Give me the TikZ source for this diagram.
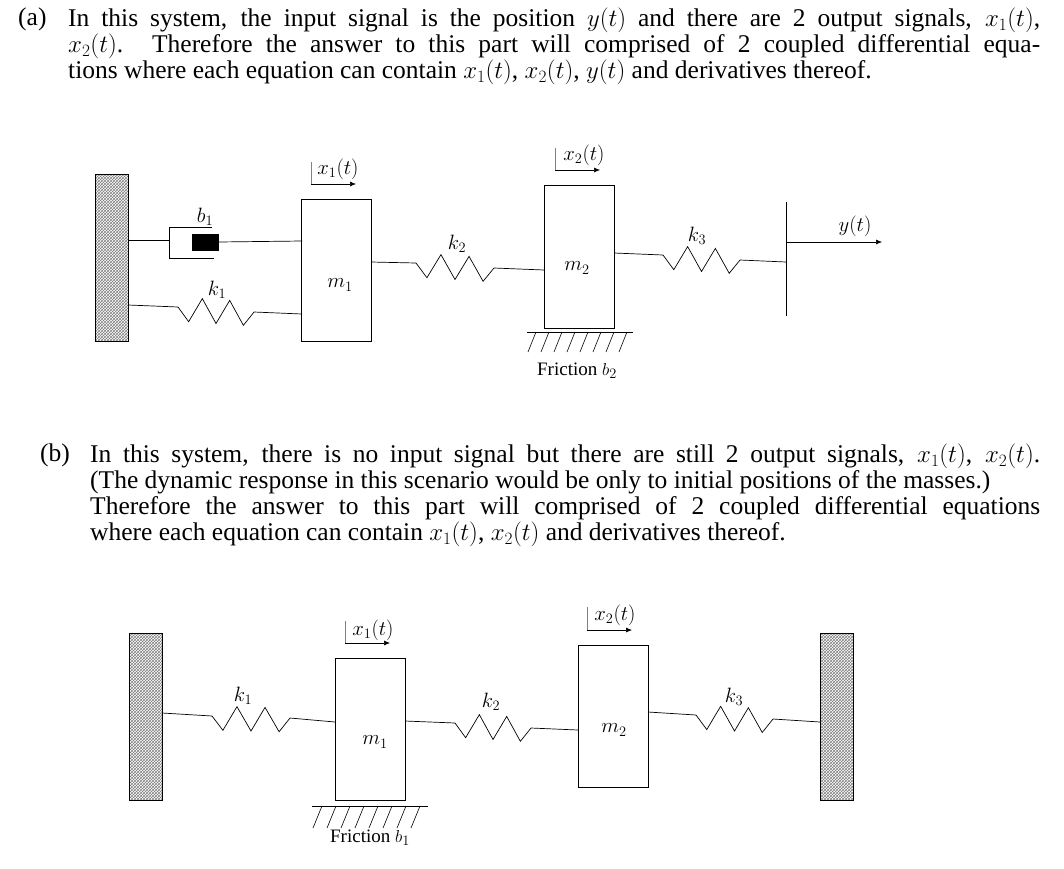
\documentclass[tikz,border=0pt]{standalone}
\usepackage{fontspec}
\setmainfont{Liberation Serif}
\usetikzlibrary{calc,patterns,arrows.meta}
\newcommand{\zzspring}[2]{%
  \draw[springline] (#1) -- ($(#1)!0.0!(#2)$)
   -- ($(#1)!0.14!(#2)+(0,14)$) -- ($(#1)!0.32!(#2)+(0,-10)$)
   -- ($(#1)!0.5!(#2)+(0,14)$) -- ($(#1)!0.68!(#2)+(0,-10)$)
   -- ($(#1)!0.86!(#2)+(0,14)$) -- (#2);}
\tikzset{
  mass/.style={draw, line width=0.8pt, minimum width=70pt, minimum height=142pt, inner sep=0pt},
  wall/.style={draw, line width=0.8pt, pattern=crosshatch, pattern color=gray, minimum width=33pt, minimum height=167pt, inner sep=0pt},
  springline/.style={line width=0.7pt},
  conn/.style={line width=0.7pt},
  lab/.style={font=\fontsize{20}{20}\selectfont, inner sep=0pt},
  para/.style={font=\fontsize{25.5}{26}\selectfont, align=justify, anchor=north west, inner sep=0pt},
  tag/.style={font=\fontsize{25.5}{26}\selectfont, anchor=north west, inner sep=0pt},
  disp/.style={line width=0.6pt, -{Latex[length=6pt,width=5pt]}},
  hatchl/.style={line width=0.6pt}
}
\begin{document}
\begin{tikzpicture}[x=1pt,y=-1pt]
\useasboundingbox (0,0) rectangle (1064,868);
% ---------- texts
\node[tag] (ta) at (18,8) {(a)};
\node[para, text width=972pt] (pa) at (68,8) {In this system, the input signal is the position $y(t)$ and there are 2 output signals, $x_1(t)$,\linebreak $x_2(t)$. Therefore the answer to this part will comprised of 2 coupled differential equa-\linebreak tions where each equation can contain $x_1(t)$, $x_2(t)$, $y(t)$ and derivatives thereof.};
\node[tag] (tb) at (40,444) {(b)};
\node[para, text width=950pt] (pb) at (90,444) {In this system, there is no input signal but there are still 2 output signals, $x_1(t)$, $x_2(t)$.\linebreak (The dynamic response in this scenario would be only to initial positions of the masses.)\newline Therefore the answer to this part will comprised of 2 coupled differential equations\linebreak where each equation can contain $x_1(t)$, $x_2(t)$ and derivatives thereof.};
% ---------- part (a)
\node[wall] (wA) at (111.5,257.5) {};
\node[mass] (mA1) at (336.5,270) {};
\node[mass, minimum height=143pt] (mA2) at (579,256.5) {};
\node[lab] (lm1) at (340,285) {$m_1$};
\node[lab] (lm2) at (577,268) {$m_2$};
% damper
\coordinate (dw) at (128,240);
\coordinate (dc) at (169,240);
\draw[conn] (dw) -- (dc);
\draw[conn] (212,227) -- (169,227) -- (169,258) -- (214,258);
\node[draw, fill=black, minimum width=26pt, minimum height=16pt, inner sep=0pt] (pist) at (205,242) {};
\coordinate (dm) at (302,241);
\draw[conn] (pist.east) -- (dm);
\node[lab] (lb1) at (205,217) {$b_1$};
% k1
\coordinate (k1a) at (128,305); \coordinate (k1b) at (178,307);
\coordinate (k1c) at (254,312); \coordinate (k1d) at (302,314);
\draw[conn] (k1a) -- (k1b); \zzspring{k1b}{k1c} \draw[conn] (k1c) -- (k1d);
\node[lab] (lk1) at (217,290) {$k_1$};
% k2
\coordinate (k2a) at (371,262); \coordinate (k2b) at (416,263);
\coordinate (k2c) at (494,268); \coordinate (k2d) at (544,270);
\draw[conn] (k2a) -- (k2b); \zzspring{k2b}{k2c} \draw[conn] (k2c) -- (k2d);
\node[lab] (lk2) at (457,244) {$k_2$};
% k3
\coordinate (k3a) at (614,253); \coordinate (k3b) at (663,255);
\coordinate (k3c) at (740,260); \coordinate (k3d) at (786,262);
\draw[conn] (k3a) -- (k3b); \zzspring{k3b}{k3c} \draw[conn] (k3c) -- (k3d);
\node[lab] (lk3) at (697,236) {$k_3$};
% plate and y(t)
\coordinate (pt) at (786,202); \coordinate (pb2) at (786,316);
\draw[conn] (pt) -- (pb2);
\coordinate (ys) at (786,242); \coordinate (ye) at (882,242);
\draw[disp] (ys) -- (ye);
\node[lab] (ly) at (855,226) {$y(t)$};
% x1, x2
\coordinate (x1a) at (311,162); \coordinate (x1b) at (311,184); \coordinate (x1c) at (356,184);
\draw[line width=0.6pt, gray] (x1a) -- (x1b);
\draw[disp] (x1b) -- (x1c);
\node[lab] (lx1) at (338,169) {$x_1(t)$};
\coordinate (x2a) at (555,148); \coordinate (x2b) at (555,170); \coordinate (x2c) at (600,170);
\draw[line width=0.6pt, gray] (x2a) -- (x2b);
\draw[disp] (x2b) -- (x2c);
\node[lab] (lx2) at (584,155) {$x_2(t)$};
% ground
\coordinate (g1) at (527,332); \coordinate (g2) at (633,332);
\draw[conn] (g1) -- (g2);
\foreach \i in {0,...,7} \draw[hatchl] (536+\i*13,332) -- (528+\i*13,352);
\node[lab, font=\fontsize{19}{19}\selectfont] (lf2) at (577,371) {Friction $b_2$};
% ---------- part (b)
\node[wall] (wB1) at (145.5,716.5) {};
\node[wall] (wB2) at (836.5,716.5) {};
\node[mass] (mB1) at (370,729) {};
\node[mass] (mB2) at (613,716) {};
\node[lab] (lbm1) at (375,742) {$m_1$};
\node[lab] (lbm2) at (614,730) {$m_2$};
\coordinate (b1a) at (162,713); \coordinate (b1b) at (212,716);
\coordinate (b1c) at (290,718); \coordinate (b1d) at (335,722);
\draw[conn] (b1a) -- (b1b); \zzspring{b1b}{b1c} \draw[conn] (b1c) -- (b1d);
\node[lab] (lbk1) at (243,696) {$k_1$};
\coordinate (b2a) at (405,721); \coordinate (b2b) at (455,723);
\coordinate (b2c) at (531,728); \coordinate (b2d) at (578,730);
\draw[conn] (b2a) -- (b2b); \zzspring{b2b}{b2c} \draw[conn] (b2c) -- (b2d);
\node[lab] (lbk2) at (491,702) {$k_2$};
\coordinate (b3a) at (648,712); \coordinate (b3b) at (696,715);
\coordinate (b3c) at (773,719); \coordinate (b3d) at (820,722);
\draw[conn] (b3a) -- (b3b); \zzspring{b3b}{b3c} \draw[conn] (b3c) -- (b3d);
\node[lab] (lbk3) at (734,697) {$k_3$};
\coordinate (y1a) at (345,621); \coordinate (y1b) at (345,643); \coordinate (y1c) at (390,643);
\draw[line width=0.6pt, gray] (y1a) -- (y1b);
\draw[disp] (y1b) -- (y1c);
\node[lab] (lbx1) at (373,630) {$x_1(t)$};
\coordinate (y2a) at (587,607); \coordinate (y2b) at (587,630); \coordinate (y2c) at (632,630);
\draw[line width=0.6pt, gray] (y2a) -- (y2b);
\draw[disp] (y2b) -- (y2c);
\node[lab] (lbx2) at (615,615) {$x_2(t)$};
\coordinate (h1) at (312,806); \coordinate (h2) at (428,806);
\draw[conn] (h1) -- (h2);
\foreach \i in {0,...,7} \draw[hatchl] (322+\i*14,806) -- (313+\i*14,828);
\node[lab, font=\fontsize{19}{19}\selectfont] (lf1) at (370,838) {Friction $b_1$};
\end{tikzpicture}
\end{document}
